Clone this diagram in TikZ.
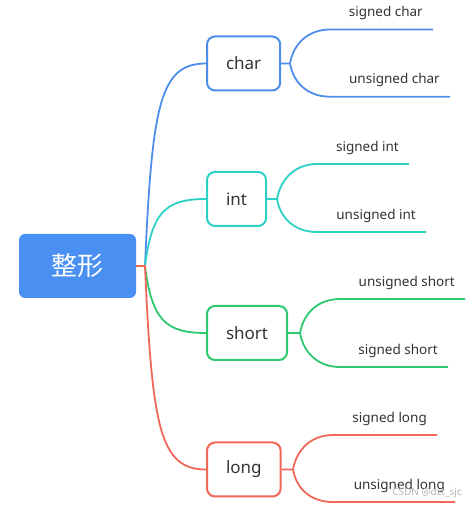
\documentclass[tikz,border=0pt]{standalone}
\usepackage{fontspec}
\setmainfont{Noto Sans}
\newfontfamily\cjk{Noto Sans CJK SC}
\usetikzlibrary{positioning}
\definecolor{rootblue}{HTML}{4A90F2}
\definecolor{charblue}{HTML}{4F8DEA}
\definecolor{intteal}{HTML}{2BD0C6}
\definecolor{shortgreen}{HTML}{2DC96F}
\definecolor{longred}{HTML}{F0675A}
\tikzset{
  rootbox/.style={rectangle, rounded corners=6pt, fill=rootblue, text=white,
    minimum width=117pt, minimum height=64pt, font=\cjk\fontsize{26}{30}\selectfont},
  typebox/.style={rectangle, rounded corners=8pt, draw, line width=2pt, fill=white,
    minimum height=54pt, inner xsep=19pt, anchor=west, text=black!80,
    font=\fontsize{17}{20}\selectfont},
  leaf/.style={inner sep=0pt, text=black!80, font=\fontsize{13.5}{16}\selectfont},
  branch/.style={line width=1.8pt},
}
\begin{document}
\begin{tikzpicture}[x=1pt, y=1pt]
  \useasboundingbox (0,0) rectangle (474,506);
  % root and the four types
  \node[rootbox] (root) at (77.5,240) {整形};
  \coordinate (split) at (145,240);
  \node[typebox, draw=charblue] (char) at (206,442.5) {char};
  \node[typebox, draw=intteal] (int) at (206,307) {int};
  \node[typebox, draw=shortgreen] (short) at (206,173) {short};
  \node[typebox, draw=longred] (long) at (206,36.5) {long};
  % branches from the root
  \draw[branch, charblue] (root.east) -- (split)
      to[out=87.5, in=180, out distance=162pt, in distance=46pt] (char.west);
  \draw[branch, intteal] (root.east) -- (split)
      to[out=82.6, in=180, out distance=54pt, in distance=41pt] (int.west);
  \draw[branch, shortgreen] (root.east) -- (split)
      to[out=-82.6, in=180, out distance=54pt, in distance=41pt] (short.west);
  \draw[branch, longred] (root.east) -- (split)
      to[out=-87.5, in=180, out distance=162pt, in distance=46pt] (long.west);
  % char leaves
  \coordinate (charsplit) at (290,442.5);
  \coordinate (cs1) at (330,476.5);
  \coordinate (ce1) at (433,476.5);
  \coordinate (cs2) at (330,409.3);
  \coordinate (ce2) at (450,409.3);
  \draw[branch, charblue] (char.east) -- (charsplit)
      to[out=80, in=180, out distance=20pt, in distance=22pt] (cs1) -- (ce1);
  \draw[branch, charblue] (charsplit)
      to[out=-80, in=180, out distance=20pt, in distance=22pt] (cs2) -- (ce2);
  \node[leaf, above left=9.5pt and 10pt of ce1] (sc) {signed char};
  \node[leaf, above left=9.5pt and 10pt of ce2] (uc) {unsigned char};
  % int leaves
  \coordinate (intsplit) at (277,307);
  \coordinate (is1) at (317,342);
  \coordinate (ie1) at (409,342);
  \coordinate (is2) at (317,274);
  \coordinate (ie2) at (426,274);
  \draw[branch, intteal] (int.east) -- (intsplit)
      to[out=80, in=180, out distance=20pt, in distance=22pt] (is1) -- (ie1);
  \draw[branch, intteal] (intsplit)
      to[out=-80, in=180, out distance=20pt, in distance=22pt] (is2) -- (ie2);
  \node[leaf, above left=9.5pt and 10pt of ie1] (si) {signed int};
  \node[leaf, above left=9.5pt and 10pt of ie2] (ui) {unsigned int};
  % short leaves
  \coordinate (shortsplit) at (300,173);
  \coordinate (ss1) at (340,207);
  \coordinate (se1) at (465,207);
  \coordinate (ss2) at (340,139);
  \coordinate (se2) at (448,139);
  \draw[branch, shortgreen] (short.east) -- (shortsplit)
      to[out=80, in=180, out distance=20pt, in distance=22pt] (ss1) -- (se1);
  \draw[branch, shortgreen] (shortsplit)
      to[out=-80, in=180, out distance=20pt, in distance=22pt] (ss2) -- (se2);
  \node[leaf, above left=9.5pt and 10pt of se1] (us) {unsigned short};
  \node[leaf, above left=9.5pt and 10pt of se2] (ss) {signed short};
  % long leaves
  \coordinate (longsplit) at (293,36.5);
  \coordinate (ls1) at (333,71);
  \coordinate (le1) at (437,71);
  \coordinate (ls2) at (333,4);
  \coordinate (le2) at (455,4);
  \draw[branch, longred] (long.east) -- (longsplit)
      to[out=80, in=180, out distance=20pt, in distance=22pt] (ls1) -- (le1);
  \draw[branch, longred] (longsplit)
      to[out=-80, in=180, out distance=20pt, in distance=22pt] (ls2) -- (le2);
  \node[leaf, above left=9.5pt and 10pt of le1] (sl) {signed long};
  \node[leaf, above left=9.5pt and 10pt of le2] (ul) {unsigned long};
  % watermark
  \node[inner sep=0pt, text=black!30, font=\fontsize{10}{12}\selectfont] (mark) at (427,13) {CSDN @dzt\_sjc};
\end{tikzpicture}
\end{document}
